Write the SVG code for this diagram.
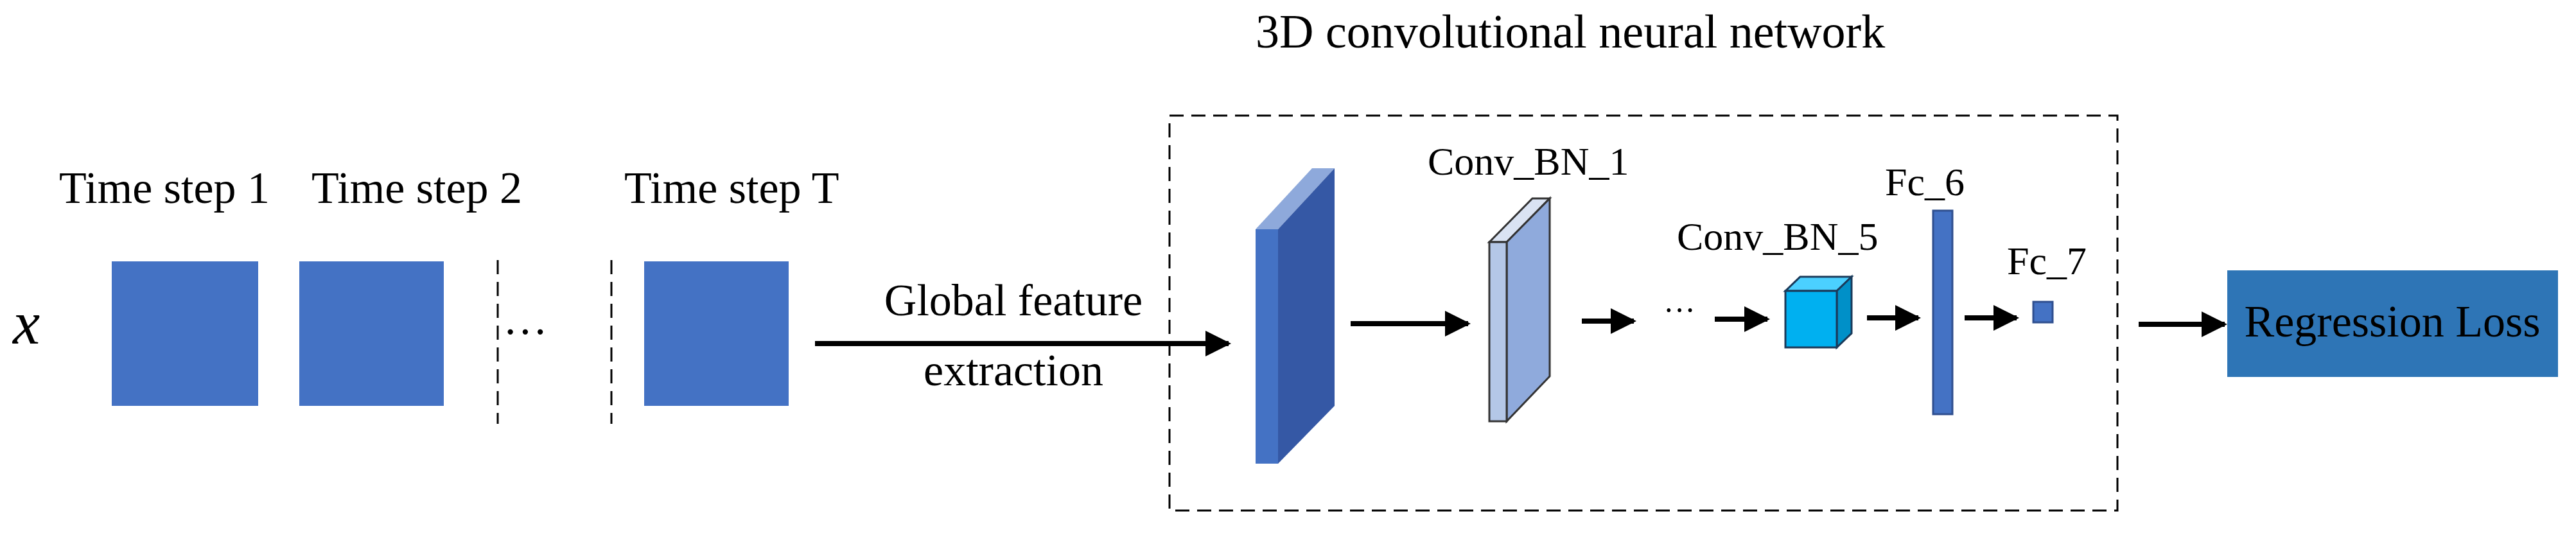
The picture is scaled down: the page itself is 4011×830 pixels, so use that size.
<svg xmlns="http://www.w3.org/2000/svg" width="4011" height="830" viewBox="0 0 4011 830">
<style>
text{font-family:"Liberation Serif","Times New Roman",serif;fill:#000}
.lbl{font-size:70px}
.sm{font-size:62px}
.conn{stroke:#000;stroke-width:8;fill:none;marker-end:url(#ah)}
.sq{fill:#4472C4}
.dash{stroke:#000;stroke-width:3;stroke-dasharray:22 12;fill:none}
</style>
<defs>
<marker id="ah" viewBox="0 0 10 10" refX="9" refY="5" markerWidth="5" markerHeight="5" orient="auto" markerUnits="strokeWidth">
<path d="M0,0 L10,5 L0,10 z" fill="#000"/>
</marker>
</defs>
<rect width="4011" height="830" fill="#fff"/>
<g id="input">
<text x="20" y="535" font-size="95" font-style="italic">x</text>
<rect class="sq" x="174" y="407" width="228" height="225"/>
<rect class="sq" x="466" y="407" width="225" height="225"/>
<rect class="sq" x="1003" y="407" width="225" height="225"/>
<line class="dash" x1="775" y1="405" x2="775" y2="660"/>
<line class="dash" x1="952" y1="405" x2="952" y2="660"/>
<text x="783" y="540" font-size="70">···</text>
<text class="lbl" x="92" y="316">Time step 1</text>
<text class="lbl" x="485" y="316">Time step 2</text>
<text class="lbl" x="972" y="316">Time step T</text>
</g>
<g id="cnn">
<text x="1955" y="74" font-size="74">3D convolutional neural network</text>
<rect class="dash" x="1821" y="180" width="1476" height="615"/>
</g>
<g id="slab0">
<polygon points="1955,357 2043,262 2078,262 1990,357" fill="#8EA9DB"/>
<polygon points="1990,357 2078,262 2078,632 1990,722" fill="#3558A5"/>
<rect x="1955" y="357" width="35" height="365" fill="#4472C4"/>
</g>
<g id="conv1" stroke="#333" stroke-width="3">
<polygon points="2319,377 2386,309 2413,309 2346,377" fill="#DAE3F3"/>
<polygon points="2346,377 2413,309 2413,586 2346,656" fill="#8FAADC"/>
<rect x="2319" y="377" width="27" height="279" fill="#B4C7E7"/>
</g>
<text class="sm" x="2223" y="272">Conv_BN_1</text>
<text x="2590" y="500" font-size="50">···</text>
<g id="conv5" stroke="#1a3a5a" stroke-width="3">
<polygon points="2780,453 2803,431 2883,431 2860,453" fill="#4BD0FF"/>
<polygon points="2860,453 2883,431 2883,519 2860,541" fill="#0090C8"/>
<rect x="2780" y="453" width="80" height="88" fill="#00B0F0"/>
</g>
<text class="sm" x="2611" y="389">Conv_BN_5</text>
<g id="fc6"><rect x="3010" y="328" width="30" height="317" fill="#4472C4" stroke="#2F4F8F" stroke-width="3"/></g>
<text class="sm" x="2935" y="304">Fc_6</text>
<g id="fc7"><rect x="3166" y="470" width="30" height="32" fill="#4472C4" stroke="#2F4F8F" stroke-width="3"/></g>
<text class="sm" x="3125" y="427">Fc_7</text>
<g id="loss">
<rect x="3468" y="421" width="515" height="166" fill="#2E75B6"/>
<text class="lbl" x="3725" y="524" text-anchor="middle">Regression Loss</text>
</g>
<text class="lbl" x="1578" y="491" text-anchor="middle">Global feature</text>
<text class="lbl" x="1578" y="600" text-anchor="middle">extraction</text>
<g id="connectors">
<line class="conn" x1="1269" y1="535" x2="1913" y2="535"/>
<line class="conn" x1="2103" y1="504" x2="2286" y2="504"/>
<line class="conn" x1="2463" y1="500" x2="2544" y2="500"/>
<line class="conn" x1="2670" y1="497" x2="2752" y2="497"/>
<line class="conn" x1="2907" y1="495" x2="2987" y2="495"/>
<line class="conn" x1="3059" y1="495" x2="3140" y2="495"/>
<line class="conn" x1="3330" y1="505" x2="3464" y2="505"/>
</g>
</svg>
